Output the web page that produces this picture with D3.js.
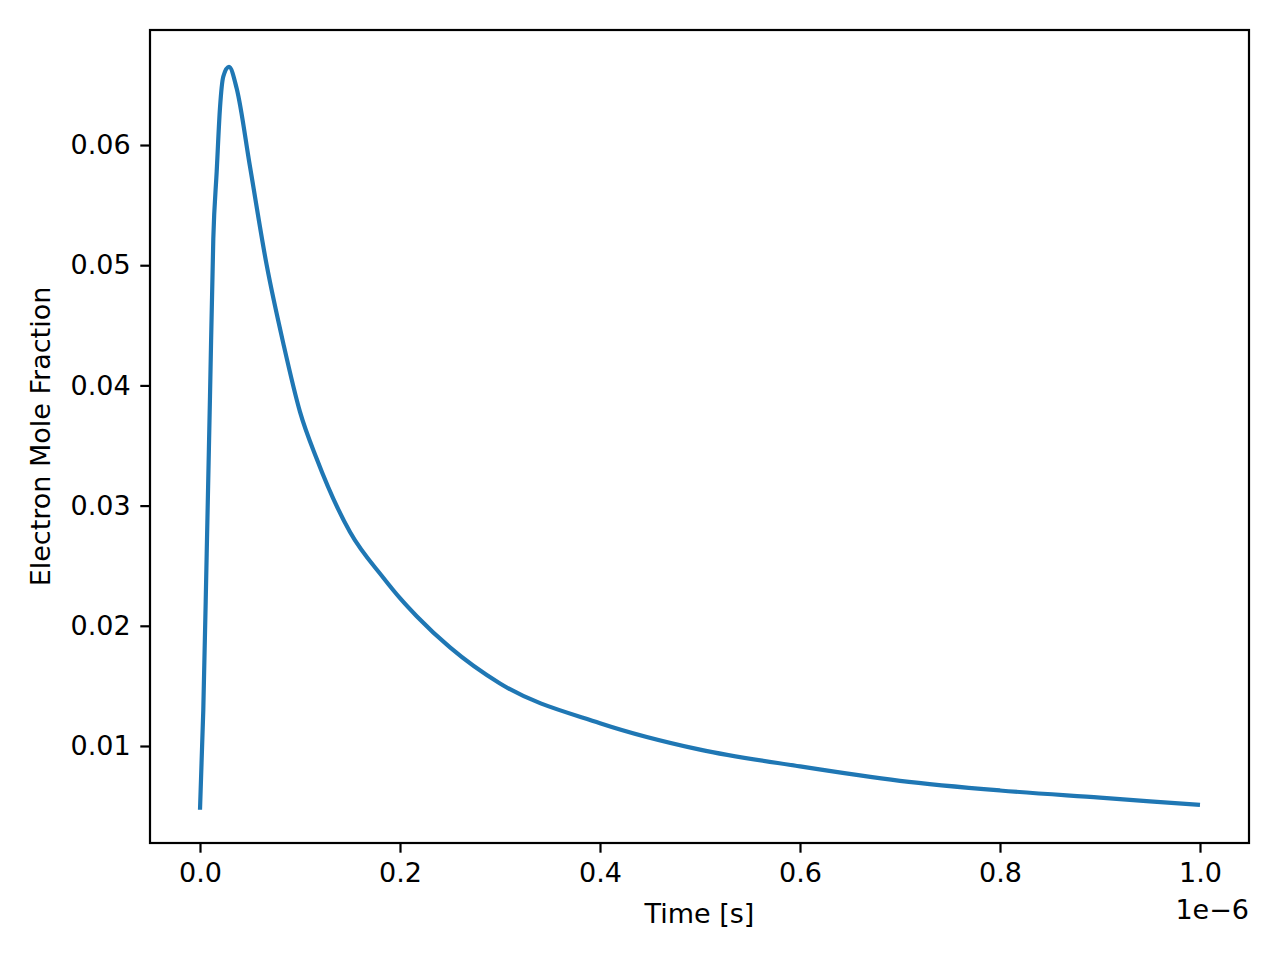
<!DOCTYPE html>
<html><head><meta charset="utf-8">
<script src="https://cdn.jsdelivr.net/npm/d3@7"></script>
<style>body{margin:0;background:#fff}text{font-family:"DejaVu Sans",sans-serif}</style>
</head><body><svg id="c" width="1280" height="960"></svg>
<script>
// time in units of 1e-6 s
const timeMicro = [0, 0.0033, 0.0067, 0.010, 0.0133, 0.0167, 0.020, 0.0233, 0.029, 0.0367, 0.050, 0.0667, 0.0833, 0.100, 0.1167, 0.150, 0.1833, 0.200, 0.2167, 0.250, 0.300, 0.400, 0.500, 0.600, 0.700, 0.800, 0.900, 1.000];
const electronFrac = [0.0047, 0.0130, 0.0260, 0.0391, 0.0522, 0.0578, 0.0631, 0.0657, 0.0665, 0.0647, 0.0582, 0.0500, 0.0435, 0.0378, 0.0339, 0.0278, 0.0240, 0.0223, 0.0208, 0.0182, 0.0152, 0.0119, 0.0097, 0.0083, 0.0071, 0.0063, 0.0057, 0.0051];
const xTicks = [0.0, 0.2, 0.4, 0.6, 0.8, 1.0];
const yTicks = [0.01, 0.02, 0.03, 0.04, 0.05, 0.06];

const L=150,R=1249,T=30,B=843, FS="27px";
const x=d3.scaleLinear().domain([-0.05,1.049]).range([L,R]);
const y=d3.scaleLinear().domain([0.00193,0.06957]).range([B,T]);
const svg=d3.select("#c");
const gx=svg.append("g").attr("transform",`translate(0,${B})`)
  .call(d3.axisBottom(x).tickValues(xTicks).tickFormat(d3.format(".1f")).tickSize(9.7).tickPadding(9.7).tickSizeOuter(0));
const gy=svg.append("g").attr("transform",`translate(${L},0)`)
  .call(d3.axisLeft(y).tickValues(yTicks).tickFormat(d3.format(".2f")).tickSize(9.7).tickPadding(9.7).tickSizeOuter(0));
[gx,gy].forEach(g=>{g.select(".domain").remove();g.attr("font-size",null).attr("font-family",null);
  g.selectAll("text").style("font-size",FS).attr("fill","#000").style("font-family","DejaVu Sans");
  g.selectAll("line").attr("stroke","#000").attr("stroke-width",2.2);});
svg.append("path").datum(timeMicro.map((t,i)=>[t,electronFrac[i]]))
  .attr("d",d3.line().x(d=>x(d[0])).y(d=>y(d[1])).curve(d3.curveMonotoneX))
  .attr("fill","none").attr("stroke","#1f77b4").attr("stroke-width",4.2).attr("stroke-linecap","butt");
svg.append("rect").attr("x",L).attr("y",T).attr("width",R-L).attr("height",B-T).attr("fill","none").attr("stroke","#000").attr("stroke-width",2.2);
svg.append("text").attr("x",(L+R)/2).attr("y",923).attr("text-anchor","middle").style("font-size",FS).text("Time [s]");
svg.append("text").attr("x",R).attr("y",919).attr("text-anchor","end").style("font-size",FS).text("1e\u22126");
svg.append("text").attr("transform",`translate(50,${(T+B)/2}) rotate(-90)`).attr("text-anchor","middle").style("font-size",FS).text("Electron Mole Fraction");
</script></body></html>
